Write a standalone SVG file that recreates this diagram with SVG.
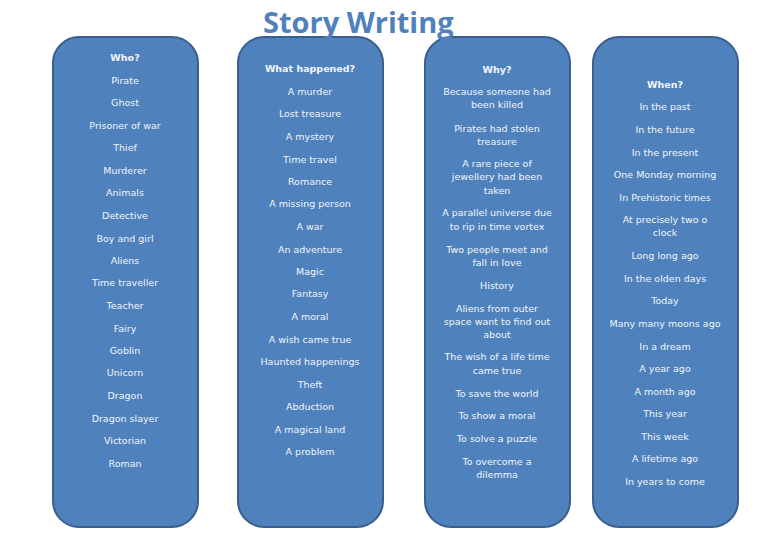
<svg xmlns="http://www.w3.org/2000/svg" width="768" height="543" viewBox="0 0 768 543">
<style>
.b{fill:#4f81bd;stroke:#3a5f8c;stroke-width:2}
text{font-family:"DejaVu Sans",sans-serif;font-size:9.5px;fill:#f2f5fa;text-anchor:middle}
.h{font-weight:bold}
.t{font-family:"Open Sans","DejaVu Sans",sans-serif;font-size:29px;font-weight:bold;fill:#4f81bd;text-anchor:start}
</style>
<rect width="768" height="543" fill="#fff"/>
<g id="who"><rect class="b" x="53" y="37" width="145" height="490" rx="26"/>
<text x="125" y="61" class="h">Who?</text>
<text x="125" y="84">Pirate</text><text x="125" y="106">Ghost</text><text x="125" y="129">Prisoner of war</text><text x="125" y="151">Thief</text><text x="125" y="174">Murderer</text><text x="125" y="196">Animals</text><text x="125" y="219">Detective</text><text x="125" y="242">Boy and girl</text><text x="125" y="264">Aliens</text><text x="125" y="286">Time traveller</text><text x="125" y="309">Teacher</text><text x="125" y="332">Fairy</text><text x="125" y="354">Goblin</text><text x="125" y="376">Unicorn</text><text x="125" y="399">Dragon</text><text x="125" y="422">Dragon slayer</text><text x="125" y="444">Victorian</text><text x="125" y="467">Roman</text></g>
<g id="what"><rect class="b" x="238" y="37" width="145" height="490" rx="26"/>
<text x="310" y="72" class="h">What happened?</text>
<text x="310" y="95">A murder</text><text x="310" y="117">Lost treasure</text><text x="310" y="140">A mystery</text><text x="310" y="163">Time travel</text><text x="310" y="185">Romance</text><text x="310" y="207">A missing person</text><text x="310" y="230">A war</text><text x="310" y="253">An adventure</text><text x="310" y="275">Magic</text><text x="310" y="297">Fantasy</text><text x="310" y="320">A moral</text><text x="310" y="343">A wish came true</text><text x="310" y="365">Haunted happenings</text><text x="310" y="388">Theft</text><text x="310" y="410">Abduction</text><text x="310" y="433">A magical land</text><text x="310" y="455">A problem</text></g>
<g id="why"><rect class="b" x="425" y="37" width="145" height="490" rx="26"/>
<text x="497" y="73" class="h">Why?</text>
<text x="497" y="95">Because someone had</text><text x="497" y="108">been killed</text>
<text x="497" y="132">Pirates had stolen</text><text x="497" y="145">treasure</text>
<text x="497" y="167">A rare piece of</text><text x="497" y="180">jewellery had been</text><text x="497" y="194">taken</text>
<text x="497" y="216">A parallel universe due</text><text x="497" y="230">to rip in time vortex</text>
<text x="497" y="253">Two people meet and</text><text x="497" y="266">fall in love</text>
<text x="497" y="289">History</text>
<text x="497" y="312">Aliens from outer</text><text x="497" y="325">space want to find out</text><text x="497" y="338">about</text>
<text x="497" y="360">The wish of a life time</text><text x="497" y="374">came true</text>
<text x="497" y="397">To save the world</text><text x="497" y="419">To show a moral</text><text x="497" y="442">To solve a puzzle</text>
<text x="497" y="465">To overcome a</text><text x="497" y="478">dilemma</text></g>
<g id="when"><rect class="b" x="593" y="37" width="145" height="490" rx="26"/>
<text x="665" y="88" class="h">When?</text>
<text x="665" y="110">In the past</text><text x="665" y="133">In the future</text><text x="665" y="156">In the present</text><text x="665" y="178">One Monday morning</text><text x="665" y="201">In Prehistoric times</text><text x="665" y="223">At precisely two o</text><text x="665" y="236">clock</text><text x="665" y="259">Long long ago</text><text x="665" y="282">In the olden days</text><text x="665" y="304">Today</text><text x="665" y="327">Many many moons ago</text><text x="665" y="350">In a dream</text><text x="665" y="372">A year ago</text><text x="665" y="395">A month ago</text><text x="665" y="417">This year</text><text x="665" y="440">This week</text><text x="665" y="462">A lifetime ago</text><text x="665" y="485">In years to come</text></g>
<text class="t" x="263" y="33">Story Writing</text>
</svg>
